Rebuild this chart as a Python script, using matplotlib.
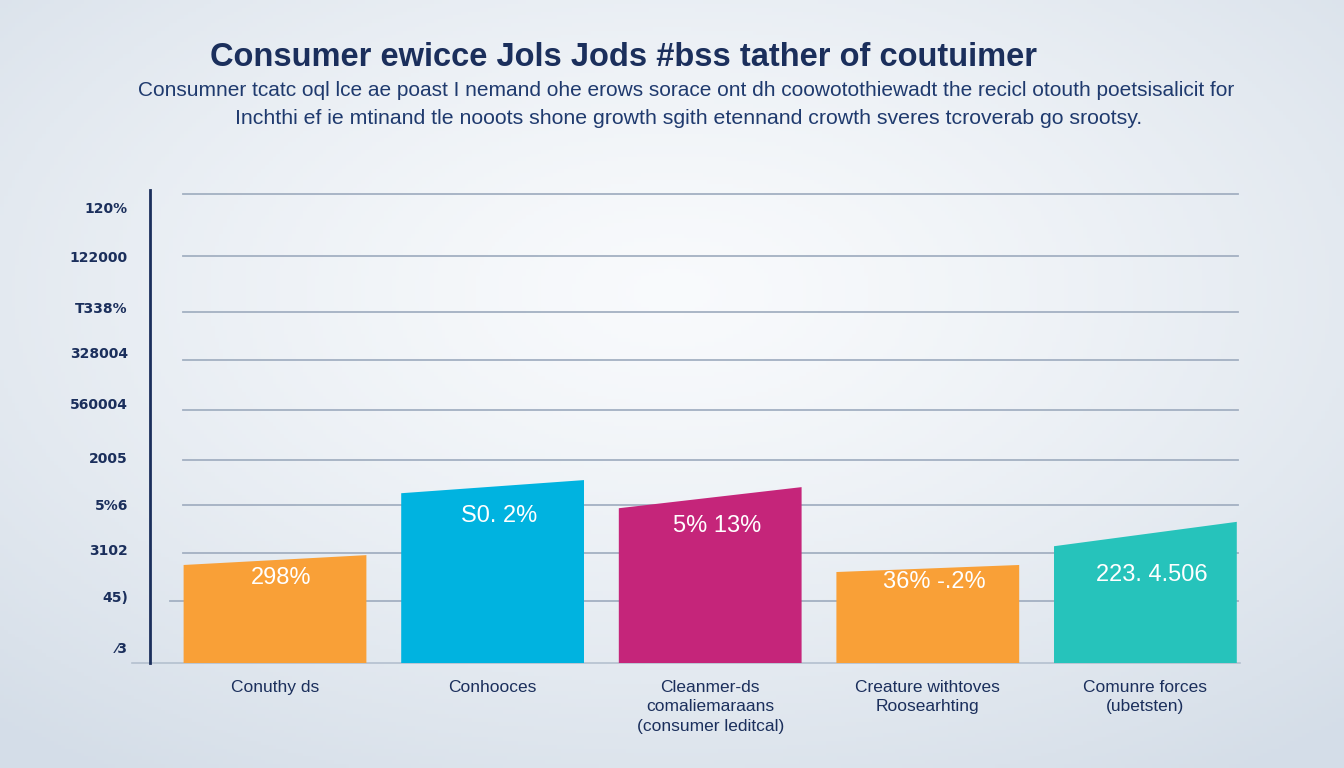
import matplotlib
matplotlib.use("Agg")
import matplotlib.pyplot as plt
import numpy as np

plt.rcParams['font.family'] = ['Liberation Sans', 'DejaVu Sans']

# --- data ---
categories = ["Conuthy ds", "Conhooces", "Cleanmer-ds\ncomaliemaraans\n(consumer leditcal)",
              "Creature withtoves\nRoosearhting", "Comunre forces\n(ubetsten)"]
left_top = [20.9, 36.2, 33.0, 19.4, 24.9]
right_top = [23.0, 39.0, 37.5, 20.9, 30.1]
bar_labels = ["298%", "S0. 2%", "5% 13%", "36% -.2%", "223. 4.506"]
label_y = [18.2, 31.3, 29.2, 17.3, 18.8]
bar_colors = ["#f9a037", "#00b3e0", "#c5257a", "#f9a037", "#26c3bb"]

grid_vals = [100, 86.8, 74.8, 64.6, 53.9, 43.3, 33.7, 23.5, 13.2]
tick_vals = [97.2, 86.6, 75.9, 66.3, 55.4, 43.9, 33.7, 24.1, 14.1, 3.4]
tick_labels = ["120%", "122000", "T338%", "328004", "560004", "2005", "5%6", "3102", "45)", "⁄3"]

title = "Consumer ewicce Jols Jods #bss tather of coutuimer"
subtitle1 = ("Consumner tcatc oql lce ae poast I nemand ohe erows sorace ont dh "
             "coowotothiewadt the recicl otouth poetsisalicit for")
subtitle2 = ("Inchthi ef ie mtinand tle nooots shone growth sgith etennand "
             "crowth sveres tcroverab go srootsy.")

navy = "#1b2f5c"

fig = plt.figure(figsize=(13.44, 7.68), dpi=100)

# soft radial background
bg = fig.add_axes([0, 0, 1, 1], zorder=-10)
yy, xx = np.mgrid[0:1:200j, 0:1:350j]
r = np.sqrt(((xx - 0.5) / 0.75) ** 2 + ((yy - 0.62) / 0.75) ** 2)
c0 = np.array([0.975, 0.982, 0.99])
c1 = np.array([0.835, 0.87, 0.91])
t = np.clip(r, 0, 1)[..., None] ** 1.3
bg.imshow(c0 * (1 - t) + c1 * t, extent=[0, 1, 0, 1], aspect='auto', origin='lower')
bg.axis('off')

W, H = 1344, 768
x0_px, x_step = 275, 217.6
ax_left, ax_right = 150, 1250
y_bot, y_top = 663, 194
ax = fig.add_axes([ax_left / W, (H - y_bot) / H, (ax_right - ax_left) / W, (y_bot - y_top) / H])
ax.set_facecolor('none')
ax.set_xlim((ax_left - x0_px) / x_step, (ax_right - x0_px) / x_step)
ax.set_ylim(0, 100)

def px2x(px):
    return (px - x0_px) / x_step

# grid lines
for g in grid_vals:
    start = px2x(170) if g < 15 else px2x(183)
    ax.plot([start, px2x(1238)], [g, g], color="#a3b0c2", lw=1.3, zorder=1, clip_on=False)
ax.plot([px2x(132), px2x(1240)], [0, 0], color="#b4c0cf", lw=1.2, zorder=1, clip_on=False)

# bars with slanted tops
w = 0.84
for i in range(len(categories)):
    ax.fill([i - w / 2, i - w / 2, i + w / 2, i + w / 2],
            [0, left_top[i], right_top[i], 0], color=bar_colors[i], zorder=3, lw=0)
    ax.text(i + 0.03, label_y[i], bar_labels[i], ha='center', va='center', color='white',
            fontsize=17, zorder=4)

for s in ['top', 'right', 'bottom']:
    ax.spines[s].set_visible(False)
ax.spines['left'].set_color(navy)
ax.spines['left'].set_linewidth(2)
ax.spines['left'].set_bounds(0, 100.9)

ax.set_yticks(tick_vals, tick_labels)
ax.tick_params(axis='y', length=0, pad=16, labelcolor=navy)
for lbl in ax.get_yticklabels():
    lbl.set_fontweight('bold')
    lbl.set_fontfamily(['DejaVu Sans'])
    lbl.set_fontsize(10)

ax.set_xticks(range(len(categories)), categories)
ax.tick_params(axis='x', length=0, pad=12, labelcolor=navy, labelsize=12.5)
for lbl in ax.get_xticklabels():
    lbl.set_linespacing(1.4)

fig.text(624 / W, 1 - 57 / H, title, ha='center', va='center', fontsize=23.5,
         fontweight='bold', color=navy)
fig.text(686 / W, 1 - 90 / H, subtitle1, ha='center', va='center', fontsize=15, color="#1f3a6e")
fig.text(689 / W, 1 - 118 / H, subtitle2, ha='center', va='center', fontsize=15.3, color="#1f3a6e")

fig.savefig("out.png", dpi=100)
